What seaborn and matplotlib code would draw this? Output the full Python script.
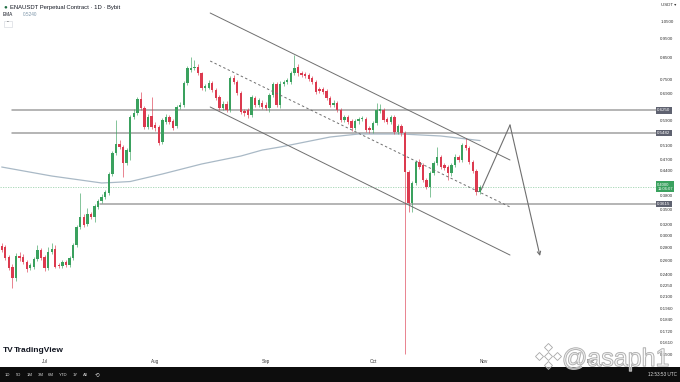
import matplotlib
matplotlib.use("Agg")
import matplotlib.pyplot as plt
import matplotlib.patheffects as pe
from matplotlib.patches import Rectangle
from matplotlib.ticker import NullLocator
import numpy as np
import pandas as pd
import seaborn as sns

# ---------------- data (ENAUSDT daily) ----------------
start_date = "2025-06-19"
opens = [0.283, 0.281, 0.265, 0.250, 0.235, 0.2668, 0.2652, 0.2576, 0.2487, 0.2501,
         0.2621, 0.2763, 0.2652, 0.2487, 0.2731, 0.2780, 0.2531, 0.2516, 0.2576, 0.2531,
         0.2637, 0.2846, 0.3161, 0.3351, 0.3217, 0.3410, 0.3351, 0.3553, 0.3679, 0.3767,
         0.3856, 0.4309, 0.4872, 0.5135, 0.5046, 0.4596, 0.4900, 0.6015, 0.6157, 0.6682,
         0.6339, 0.5672, 0.6050, 0.5739, 0.5672, 0.5196, 0.5840, 0.6015, 0.5875, 0.5705,
         0.6377, 0.6452, 0.7337, 0.7916, 0.8009, 0.8056, 0.7778, 0.7126, 0.7126, 0.7337,
         0.7043, 0.6760, 0.6339, 0.6489, 0.6266, 0.7554, 0.7380, 0.6921, 0.6229, 0.6266,
         0.6085, 0.6721, 0.6452, 0.6527, 0.6452, 0.6339, 0.6840, 0.7294, 0.6452, 0.7294,
         0.7380, 0.7380, 0.7778, 0.8056, 0.7778, 0.7733, 0.7688, 0.7554, 0.7380, 0.7084,
         0.7084, 0.7002, 0.6721, 0.6452, 0.6527, 0.6266, 0.5909, 0.6015, 0.5875, 0.5639,
         0.5875, 0.5945, 0.5945, 0.5639, 0.5574, 0.5806, 0.6229, 0.6266, 0.5945, 0.5840,
         0.6015, 0.5509, 0.5705, 0.5477, 0.4360, 0.3637, 0.4089, 0.4623, 0.4542, 0.4161,
         0.3994, 0.4334, 0.4596, 0.4759, 0.4542, 0.4489, 0.4334, 0.4542, 0.4759, 0.4677,
         0.5105, 0.5017, 0.4623, 0.4385, 0.3878]
closes = [0.276, 0.264, 0.249, 0.235, 0.267, 0.2637, 0.2576, 0.2472, 0.2531, 0.2621,
          0.2763, 0.2637, 0.2487, 0.2731, 0.2780, 0.2501, 0.2516, 0.2576, 0.2531, 0.2637,
          0.2846, 0.3161, 0.3351, 0.3198, 0.3410, 0.3351, 0.3573, 0.3679, 0.3767, 0.3878,
          0.4309, 0.4872, 0.5135, 0.5046, 0.4596, 0.4958, 0.6015, 0.6157, 0.6682, 0.6339,
          0.5672, 0.6015, 0.5672, 0.5639, 0.5166, 0.5909, 0.6015, 0.5840, 0.5639, 0.6377,
          0.6452, 0.7337, 0.8009, 0.8009, 0.8056, 0.7778, 0.7126, 0.7210, 0.7337, 0.7043,
          0.6721, 0.6339, 0.6489, 0.6266, 0.7554, 0.7380, 0.6921, 0.6193, 0.6157, 0.6085,
          0.6760, 0.6452, 0.6643, 0.6377, 0.6339, 0.6840, 0.7294, 0.6452, 0.7294, 0.7380,
          0.7467, 0.7778, 0.8009, 0.7778, 0.7688, 0.7643, 0.7510, 0.7380, 0.6961, 0.7002,
          0.6961, 0.6721, 0.6452, 0.6527, 0.6266, 0.5909, 0.6015, 0.5840, 0.5639, 0.5875,
          0.5945, 0.5979, 0.5574, 0.5574, 0.5806, 0.6266, 0.6302, 0.5909, 0.5840, 0.6015,
          0.5509, 0.5705, 0.5477, 0.4360, 0.3637, 0.4089, 0.4623, 0.4489, 0.4161, 0.3994,
          0.4334, 0.4596, 0.4759, 0.4489, 0.4463, 0.4334, 0.4542, 0.4759, 0.4677, 0.5105,
          0.5017, 0.4623, 0.4385, 0.3878, 0.4000]
highs = [0.288, 0.285, 0.268, 0.255, 0.271, 0.2731, 0.2699, 0.2606, 0.2561, 0.2652,
         0.2846, 0.2796, 0.2683, 0.2812, 0.2879, 0.2846, 0.2561, 0.2606, 0.2606, 0.2668,
         0.2879, 0.3198, 0.3856, 0.3410, 0.3532, 0.3450, 0.3615, 0.3723, 0.3833, 0.3924,
         0.4360, 0.4929, 0.5909, 0.5257, 0.5105, 0.5017, 0.6085, 0.6302, 0.6760, 0.6961,
         0.6414, 0.6121, 0.6760, 0.5840, 0.5739, 0.5979, 0.6121, 0.6085, 0.5945, 0.6452,
         0.6566, 0.7423, 0.8104, 0.8541, 0.8393, 0.8199, 0.7824, 0.7294, 0.7467, 0.7423,
         0.7126, 0.6840, 0.6604, 0.6604, 0.7643, 0.7688, 0.7467, 0.7002, 0.6302, 0.6339,
         0.6840, 0.6800, 0.6721, 0.6643, 0.6566, 0.6921, 0.7380, 0.7380, 0.7423, 0.7467,
         0.7554, 0.7870, 0.8642, 0.8199, 0.7870, 0.7824, 0.7778, 0.7643, 0.7467, 0.7168,
         0.7168, 0.7084, 0.6800, 0.6643, 0.6604, 0.6339, 0.6085, 0.6085, 0.5945, 0.5945,
         0.6015, 0.6050, 0.6015, 0.5705, 0.5875, 0.6527, 0.6489, 0.6339, 0.6015, 0.6085,
         0.6085, 0.5772, 0.5772, 0.5541, 0.4411, 0.4137, 0.4677, 0.4704, 0.4596, 0.4209,
         0.4385, 0.4650, 0.5046, 0.4815, 0.4596, 0.4542, 0.4596, 0.4843, 0.4815, 0.5166,
         0.5319, 0.5076, 0.4677, 0.4437, 0.4041]
lows = [0.273, 0.261, 0.246, 0.221, 0.230, 0.2591, 0.2546, 0.2429, 0.2458, 0.2472,
        0.2591, 0.2606, 0.2444, 0.2458, 0.2699, 0.2487, 0.2487, 0.2487, 0.2501, 0.2501,
        0.2606, 0.2812, 0.3124, 0.3161, 0.3179, 0.3312, 0.3255, 0.3511, 0.3637, 0.3723,
        0.3811, 0.4259, 0.4815, 0.4987, 0.4234, 0.4542, 0.4677, 0.5945, 0.6085, 0.6266,
        0.5606, 0.5606, 0.5606, 0.5541, 0.5105, 0.5135, 0.5772, 0.5772, 0.5574, 0.5639,
        0.6302, 0.6377, 0.7252, 0.7824, 0.7916, 0.7688, 0.7043, 0.7002, 0.7084, 0.6961,
        0.6643, 0.6266, 0.6266, 0.6193, 0.6193, 0.7294, 0.6840, 0.6121, 0.6050, 0.5979,
        0.6015, 0.6377, 0.6377, 0.6302, 0.6266, 0.6193, 0.6760, 0.6377, 0.6339, 0.7210,
        0.7294, 0.7294, 0.7688, 0.7643, 0.7598, 0.7554, 0.7423, 0.7294, 0.6880, 0.6921,
        0.6880, 0.6643, 0.6377, 0.6377, 0.6193, 0.5840, 0.5840, 0.5772, 0.5541, 0.5574,
        0.5772, 0.5875, 0.5509, 0.5477, 0.5477, 0.5739, 0.6157, 0.5840, 0.5772, 0.5772,
        0.5445, 0.5445, 0.5382, 0.150, 0.3450, 0.3450, 0.4041, 0.4437, 0.4113, 0.3948,
        0.3767, 0.4284, 0.4542, 0.4437, 0.4411, 0.4161, 0.4259, 0.4489, 0.4623, 0.4623,
        0.4958, 0.4569, 0.4334, 0.3811, 0.3833]

# EMA line read at a few days (day index from start_date)
ema_days = [0, 14, 28, 31, 36, 45, 56, 67, 73, 78, 92, 100, 112, 123, 134]
ema_vals = [0.4489, 0.4259, 0.4089, 0.4100, 0.4124, 0.4309, 0.4569, 0.4787, 0.4958,
            0.5046, 0.5350, 0.5445, 0.5445, 0.5382, 0.5240]

# drawn levels / channel / projection
level_vals = [0.6250, 0.5482, 0.3615]
level_from = [2.9, 2.9, 27.6]
chan_days = [58.4, 142.4]
chan_upper = [1.1048, 0.4677]
chan_mid = [0.8344, 0.3553]
chan_lower = [0.6377, 0.2683]
proj_days = [134.3, 142.4, 150.8]
proj_vals = [0.3924, 0.5739, 0.2668]
last_price = 0.4000

price_ticks = [1.05, 0.95, 0.85, 0.75, 0.69, 0.59, 0.51, 0.47, 0.44, 0.41, 0.38, 0.35,
               0.32, 0.30, 0.28, 0.26, 0.24, 0.225, 0.21, 0.196, 0.184, 0.172, 0.161, 0.150]
month_names = ["Jul", "Aug", "Sep", "Oct", "Nov", "Dec"]
month_dates = ["2025-07-01", "2025-08-01", "2025-09-01", "2025-10-01", "2025-11-01", "2025-12-01"]
range_buttons = ["1D", "5D", "1M", "3M", "6M", "YTD", "1Y", "All"]

# ---------------- style ----------------
sns.set_theme(style="white")
plt.rcParams["font.family"] = ["Liberation Sans", "DejaVu Sans"]

GREEN = "#3aa15e"
RED = "#dc3a4f"
EMA_C = "#a9b9c6"
LEVEL_C = "#a0a0a0"
CHAN_C = "#6f6f6f"

W, H = 680, 382
fig = plt.figure(figsize=(W / 100, H / 100), dpi=100)
fig.patch.set_facecolor("white")

ax = fig.add_axes([0, (H - 357) / H, 656 / W, 357 / H])
ax.set_facecolor("white")
for s in ax.spines.values():
    s.set_visible(False)

start = pd.Timestamp(start_date)
df = pd.DataFrame({"open": opens, "high": highs, "low": lows, "close": closes})
df["day"] = np.arange(len(df))
up = df["close"] >= df["open"]
cols = np.where(up, GREEN, RED)

ax.set_yscale("log")
ax.set_ylim(0.1478, 1.1921)
ax.set_xlim(-0.48, 183.3)

# wicks + bodies
ax.vlines(df["day"], df["low"], df["high"], colors=cols, lw=0.55, alpha=0.8, zorder=4)
ax.bar(df["day"], (df["close"] - df["open"]).abs(), bottom=np.minimum(df["open"], df["close"]),
       width=0.66, color=cols, linewidth=0, zorder=5)

# EMA
sns.lineplot(x=ema_days, y=ema_vals, ax=ax, color=EMA_C, lw=0.9, zorder=3)

# horizontal levels
xmax = ax.get_xlim()[1]
for v, f in zip(level_vals, level_from):
    ax.plot([f, xmax], [v, v], color=LEVEL_C, lw=1.1, zorder=2)
ax.axhline(last_price, color="#9fd3b0", lw=0.6, ls=(0, (1.5, 1.5)), zorder=2)

# channel
ax.plot(chan_days, chan_upper, color=CHAN_C, lw=0.7, zorder=6)
ax.plot(chan_days, chan_lower, color=CHAN_C, lw=0.7, zorder=6)
ax.plot(chan_days, chan_mid, color=CHAN_C, lw=0.7, ls=(0, (2.5, 2.5)), zorder=6)

# projection path
ax.plot(proj_days[:2], proj_vals[:2], color=CHAN_C, lw=0.8, zorder=6)
ax.annotate("", xy=(proj_days[2], proj_vals[2]), xytext=(proj_days[1], proj_vals[1]),
            arrowprops=dict(arrowstyle="->", color=CHAN_C, lw=0.8, mutation_scale=6,
                            shrinkA=0, shrinkB=0), zorder=6)

# axes ticks
ax.yaxis.tick_right()
ax.yaxis.set_minor_locator(NullLocator())
ax.set_yticks(price_ticks)
ax.set_yticklabels([f"{t:.4f}" for t in price_ticks])
ax.tick_params(axis="y", length=0, pad=3, labelsize=3.2, labelcolor="#333333")
month_pos = [(pd.Timestamp(d) - start).days for d in month_dates]
ax.set_xticks(month_pos)
ax.set_xticklabels(month_names)
ax.tick_params(axis="x", length=0, pad=1.5, labelsize=3.3, labelcolor="#333333")
ax.grid(False)
ax.set_xlabel("")
ax.set_ylabel("")

# price boxes on the scale
ytr = ax.get_yaxis_transform()
for v in level_vals:
    ax.text(1.002, v, f"{v:.4f}", transform=ytr, ha="left", va="center", fontsize=3.2,
            color="white", clip_on=False, zorder=20,
            bbox=dict(boxstyle="square,pad=0.25", fc="#5f6270", ec="none"))
ax.text(1.002, last_price, f"{last_price:.4f}\n11:06:07", transform=ytr, ha="left",
        va="center", fontsize=3.0, color="white", clip_on=False, zorder=20, linespacing=1.1,
        bbox=dict(boxstyle="square,pad=0.3", fc=GREEN, ec="none"))

# header texts
def fx(x):
    return x / W

def fy(y):
    return 1 - y / H

fig.text(fx(5), fy(7), "●", fontsize=4.5, color="#1f6e43", ha="center", va="center")
fig.text(fx(10), fy(7), "ENAUSDT Perpetual Contract · 1D · Bybit", fontsize=4.2,
         color="#131722", ha="left", va="center")
fig.text(fx(3), fy(15), "EMA", fontsize=3.4, color="#131722", ha="left", va="center")
fig.text(fx(23), fy(15), "0.5240", fontsize=3.4, color="#7f97aa", ha="left", va="center")
fig.patches.append(Rectangle((fx(4), fy(27)), 8 / W, 6 / H, transform=fig.transFigure,
                             fc="white", ec="#d0d3da", lw=0.4))
fig.text(fx(8), fy(24), "ˆ", fontsize=4, color="#555", ha="center", va="center")
fig.text(fx(676), fy(5), "USDT ▾", fontsize=3.2, color="#333", ha="right", va="center")

# TradingView logo
fig.text(fx(3), fy(350), "TV", fontsize=6, fontweight="heavy", color="#131722",
         ha="left", va="center")
fig.text(fx(14), fy(350), "TradingView", fontsize=6, fontweight="bold", color="#131722",
         ha="left", va="center")

# bottom toolbar
fig.patches.append(Rectangle((0, 0), 1, 15 / H, transform=fig.transFigure,
                             fc="#0d0d0d", ec="none", zorder=1))
bx = 5
for b in range_buttons:
    fig.text(fx(bx), fy(374.5), b, fontsize=3.1, color="#d8d8d8", ha="left", va="center",
             zorder=2)
    bx += 6 + 2.4 * len(b)
fig.text(fx(97), fy(374.5), "⟲", fontsize=4, color="#d8d8d8", ha="center", va="center", zorder=2)
fig.text(fx(677), fy(374.5), "12:53:53 UTC", fontsize=3.3, color="#e0e0e0", ha="right",
         va="center", zorder=2)

# watermark (semi-transparent so the scale text stays visible beneath)
fig.text(fx(562), fy(366), "@asaph1", fontsize=18, color=(1, 1, 1, 0.35), ha="left",
         va="baseline", zorder=3,
         path_effects=[pe.withStroke(linewidth=0.8, foreground="#a8a8a8")])
cx, cy = 548, 356
for dx, dy in [(0, 0), (-9, 0), (9, 0), (0, -9), (0, 9)]:
    fig.lines.append(plt.Line2D([fx(cx + dx)], [fy(cy + dy)], transform=fig.transFigure,
                                marker="D", ms=4.2, mfc=(1, 1, 1, 0.4), mec="#a8a8a8", mew=0.6,
                                zorder=3))

fig.savefig("out.png", dpi=100)
